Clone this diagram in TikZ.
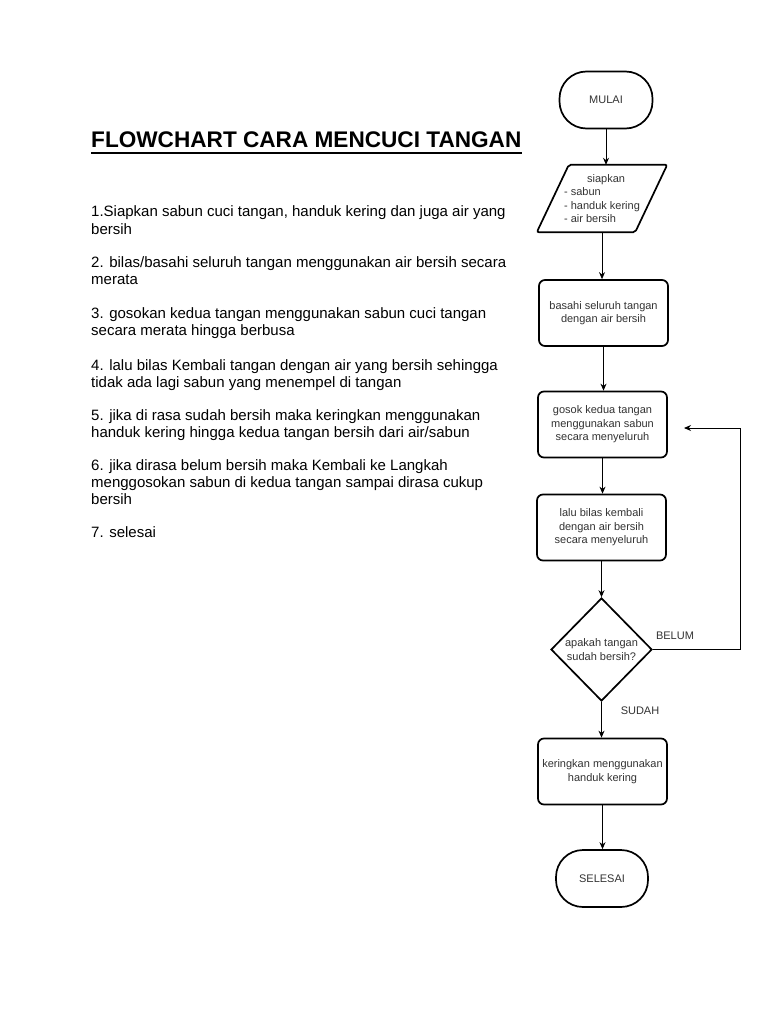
\documentclass[tikz,border=0pt]{standalone}
\usepackage{fontspec}
\setmainfont{Liberation Sans}
\usetikzlibrary{shapes.geometric,arrows.meta,calc}
\begin{document}
\begin{tikzpicture}[x=1pt,y=-1pt,
  body/.style={anchor=base west,inner sep=0pt,font=\fontsize{15}{17}\selectfont},
  fctext/.style={font=\fontsize{11}{13.5}\selectfont,text=black!80,align=center},
  procbox/.style={draw,line width=1.7pt,rounded corners=6pt,minimum width=129pt,minimum height=66pt,fctext},
  term/.style={draw,line width=1.7pt,rounded corners=27pt,minimum width=93pt,minimum height=57pt,fctext},
  flow/.style={-{Stealth[length=7pt,width=6pt]},line width=0.9pt}]
\useasboundingbox (0,0) rectangle (768,1024);
\fill[white] (0,0) rectangle (768,1024);
% title
\node[anchor=base west,inner sep=0pt,font=\fontsize{22.6}{25}\selectfont\bfseries] (title) at (91,148) {FLOWCHART CARA MENCUCI TANGAN};
\draw[line width=1.7pt] ($(title.base west)+(0,5)$) -- ($(title.base east)+(0,5)$);
% body
\node[body] (l1) at (91,217) {1.Siapkan sabun cuci tangan, handuk kering dan juga air yang};
\node[body] (l2) at (91,234) {bersih};
\node[body] (l3) at (91,267) {2. bilas/basahi seluruh tangan menggunakan air bersih secara};
\node[body] (l4) at (91,284.5) {merata};
\node[body] (l5) at (91,318) {3. gosokan kedua tangan menggunakan sabun cuci tangan};
\node[body] (l6) at (91,335) {secara merata hingga berbusa};
\node[body] (l7) at (91,370) {4. lalu bilas Kembali tangan dengan air yang bersih sehingga};
\node[body] (l8) at (91,387.5) {tidak ada lagi sabun yang menempel di tangan};
\node[body] (l9) at (91,420) {5. jika di rasa sudah bersih maka keringkan menggunakan};
\node[body] (l10) at (91,437.5) {handuk kering hingga kedua tangan bersih dari air/sabun};
\node[body] (l11) at (91,470) {6. jika dirasa belum bersih maka Kembali ke Langkah};
\node[body] (l12) at (91,487.5) {menggosokan sabun di kedua tangan sampai dirasa cukup};
\node[body] (l13) at (91,504.5) {bersih};
\node[body] (l14) at (91,537) {7. selesai};
% flowchart
\node[term] (mulai) at (606,100) {MULAI};
\node[fctext,align=left,inner sep=0pt,minimum width=130pt,minimum height=67pt] (inp) at (602,198.5) {\hspace*{23pt}siapkan\\- sabun\\- handuk kering\\- air bersih};
\draw[line width=1.7pt,rounded corners=2pt] ($(inp.north west)+(32,0)$) -- (inp.north east) -- ($(inp.south east)+(-32,0)$) -- (inp.south west) -- cycle;
\node[procbox] (basahi) at (603.5,313) {basahi seluruh tangan\\dengan air bersih};
\node[procbox] (gosok) at (602.5,424.5) {gosok kedua tangan\\menggunakan sabun\\secara menyeluruh};
\node[procbox] (bilas) at (601.5,527.5) {lalu bilas kembali\\dengan air bersih\\secara menyeluruh};
\node[draw,diamond,line width=1.7pt,inner sep=0pt,minimum width=101pt,minimum height=103pt,fctext] (cek) at (601.5,649.5) {apakah tangan\\sudah bersih?};
\node[procbox] (kering) at (602.5,771.5) {keringkan menggunakan\\handuk kering};
\node[term,minimum width=92pt] (selesai) at (602,878.5) {SELESAI};
\coordinate (back) at (684,428);
% connectors
\draw[flow] (mulai.south) -- (mulai.south |- inp.north);
\draw[flow] (inp.south) -- (inp.south |- basahi.north);
\draw[flow] (basahi.south) -- (basahi.south |- gosok.north);
\draw[flow] (gosok.south) -- (gosok.south |- bilas.north);
\draw[flow] (bilas.south) -- (bilas.south |- cek.north);
\draw[flow] (cek.south) -- (cek.south |- kering.north);
\draw[flow] (kering.south) -- (kering.south |- selesai.north);
\draw[flow] (cek.east) -- (740,649.5) -- (740,428) -- (back);
\node[fctext,inner sep=0pt] (belum) at (675,636) {BELUM};
\node[fctext,inner sep=0pt] (sudah) at (640,711) {SUDAH};
\end{tikzpicture}
\end{document}
